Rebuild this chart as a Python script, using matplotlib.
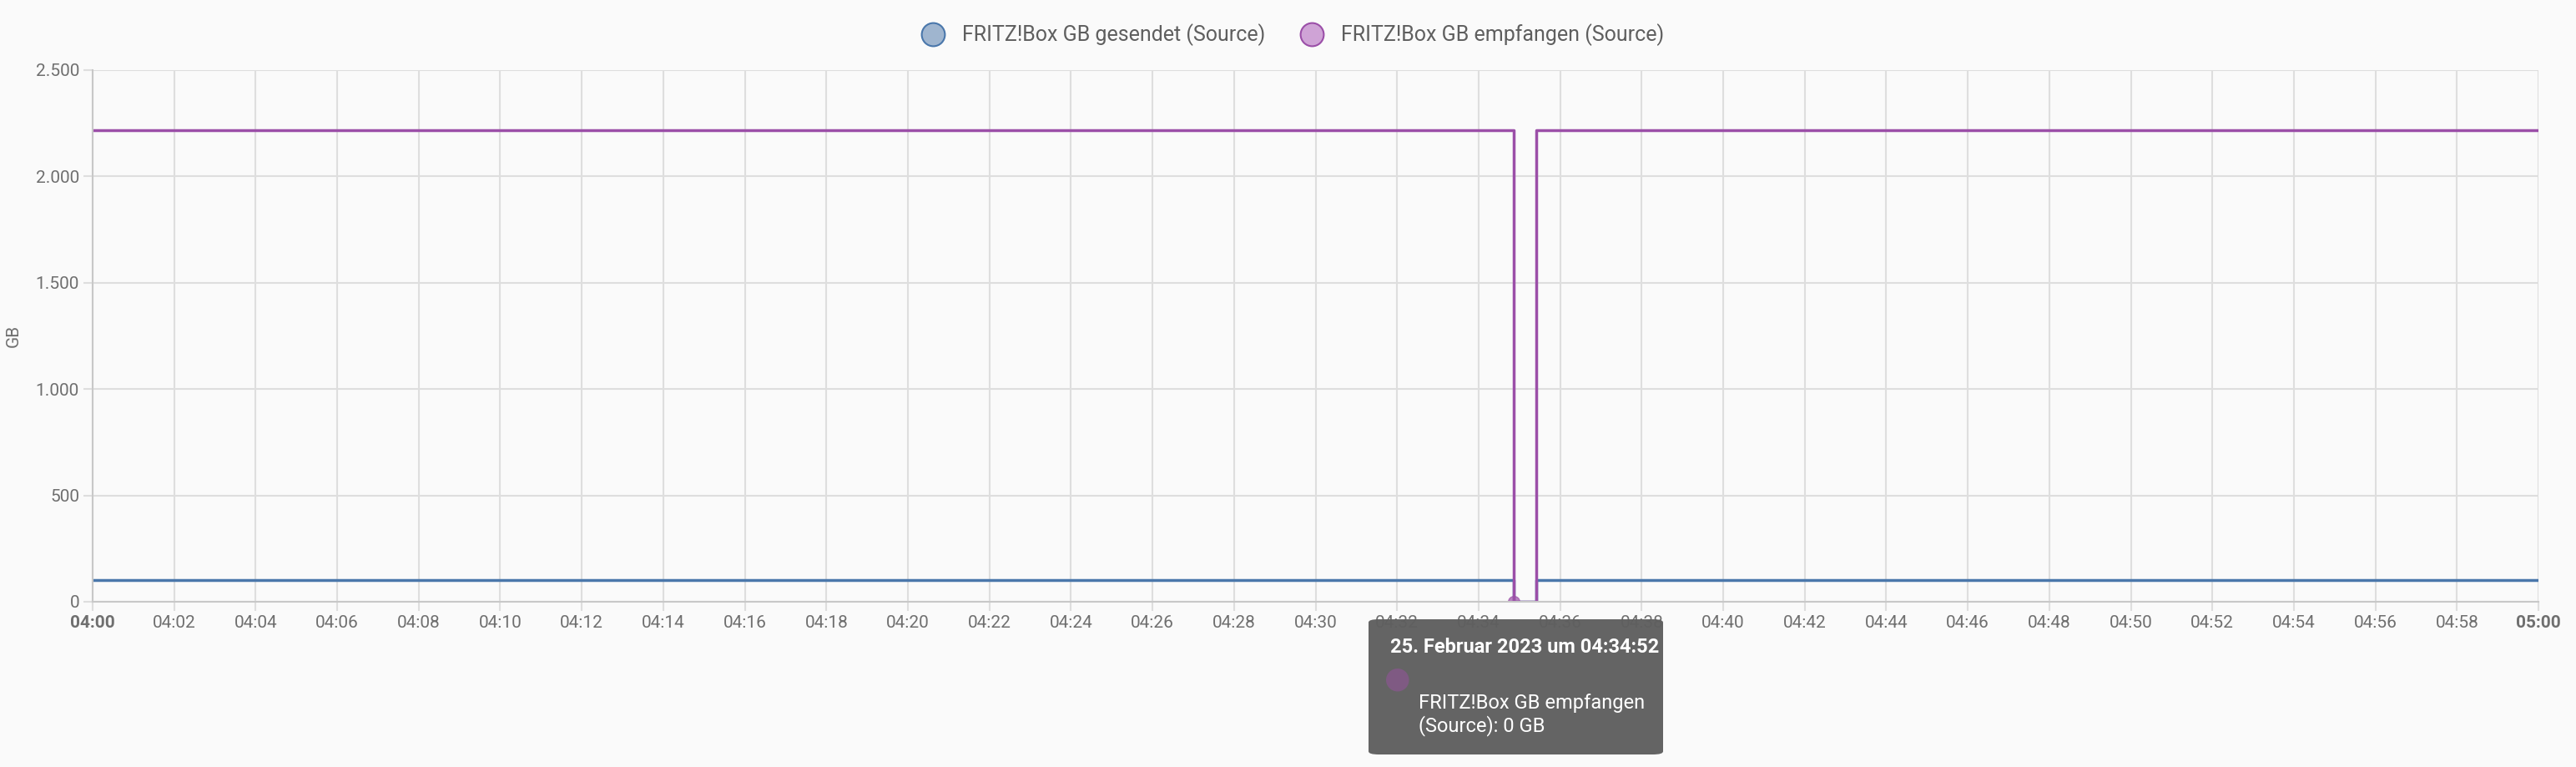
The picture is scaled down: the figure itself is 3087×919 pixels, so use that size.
import matplotlib
matplotlib.use("Agg")
import matplotlib.pyplot as plt
import matplotlib.dates as mdates
from matplotlib.patches import FancyBboxPatch
from matplotlib.lines import Line2D
from datetime import datetime

plt.rcParams['font.family'] = ['Roboto', 'DejaVu Sans']

times = [datetime(2023,2,25,4,0,0), datetime(2023,2,25,4,34,52), datetime(2023,2,25,4,35,25), datetime(2023,2,25,5,0,0)]
sent = [102, 0, 102, 102]
recv = [2217, 0, 2217, 2217]
c_sent = '#4a77ab'
c_recv = '#9b4fa8'

fig = plt.figure(figsize=(30.87, 9.19), dpi=100, facecolor='#fafafa')
ax = fig.add_axes([111/3087, 1-721/919, (3042-111)/3087, (721-84)/919])
ax.set_facecolor('#fafafa')
ax.step(times, sent, where='post', color=c_sent, lw=2.5)
ax.step(times, recv, where='post', color=c_recv, lw=2.5)
ax.plot([times[1]], [0], 'o', ms=10, color=c_recv, alpha=0.7)
ax.set_xlim(times[0], times[-1])
ax.set_ylim(0, 2500)
ax.set_yticks(range(0, 2501, 500))
ax.set_yticklabels(['0', '500', '1.000', '1.500', '2.000', '2.500'])
ax.xaxis.set_major_locator(mdates.MinuteLocator(interval=2))
ax.xaxis.set_major_formatter(mdates.DateFormatter('%H:%M'))
ax.grid(True, color='#dedede', lw=1.5)
for s in ['top', 'right']:
    ax.spines[s].set_visible(False)
for s in ['left', 'bottom']:
    ax.spines[s].set_color('#c8c8c8')
    ax.spines[s].set_linewidth(1.5)
ax.tick_params(colors='#dedede', labelcolor='#6f6f6f', labelsize=15, length=8, width=1.5)
labs = ax.get_xticklabels()
fig.canvas.draw()
for t in ax.get_xticklabels():
    if t.get_text() in ('04:00', '05:00'):
        t.set_fontweight('bold')
ax.set_ylabel('GB', color='#6f6f6f', fontsize=15, labelpad=12)

h = [Line2D([], [], marker='o', ls='', ms=20, markerfacecolor='#9fb5cf', markeredgecolor=c_sent, markeredgewidth=1.5),
     Line2D([], [], marker='o', ls='', ms=20, markerfacecolor='#cfa3d6', markeredgecolor=c_recv, markeredgewidth=1.5)]
fig.legend(h, ['FRITZ!Box GB gesendet (Source)', 'FRITZ!Box GB empfangen (Source)'], loc='center',
           bbox_to_anchor=(0.5, 1-42/919), ncol=2, frameon=False, fontsize=18, labelcolor='#5f5f5f',
           handletextpad=0.4, columnspacing=1.2)

W, H = 3087, 919
box = FancyBboxPatch((1640/W, 1-904/H), (1993-1640)/W, (904-742)/H, boxstyle='round,pad=0,rounding_size=0.004',
                     transform=fig.transFigure, facecolor='#5f5f5f', edgecolor='none', alpha=0.97, zorder=10)
fig.patches.append(box)
fig.text(1666/W, 1-775/H, '25. Februar 2023 um 04:34:52', color='white', fontsize=17, fontweight='bold', va='center', zorder=11)
fig.text(1675/W, 1-813/H, '\u25CF', color='#7f5a83', fontsize=26, va='center', ha='center', zorder=11)
fig.text(1700/W, 1-842/H, 'FRITZ!Box GB empfangen', color='white', fontsize=17, va='center', zorder=11)
fig.text(1700/W, 1-870/H, '(Source): 0 GB', color='white', fontsize=17, va='center', zorder=11)

fig.savefig('out.png', dpi=100, facecolor=fig.get_facecolor())
